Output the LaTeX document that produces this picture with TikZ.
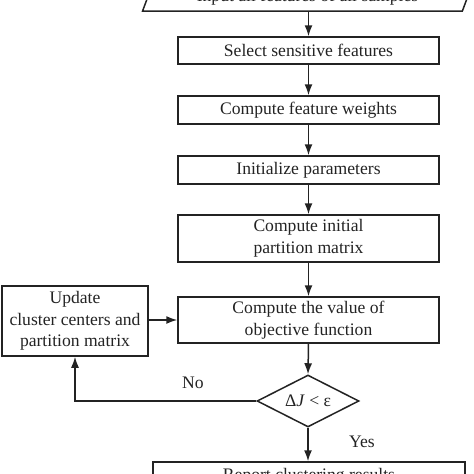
\documentclass[tikz,border=0pt]{standalone}
\usepackage{fontspec}
\setmainfont{Liberation Serif}
\usetikzlibrary{shapes.geometric,arrows.meta}
\definecolor{ink}{RGB}{35,35,35}
\begin{document}
\begin{tikzpicture}[x=1pt,y=-1pt,
  every node/.style={font=\fontsize{17.6}{21.5}\selectfont, text=ink},
  procbox/.style={draw=ink, line width=1.5pt, minimum width=261pt, inner sep=0pt, align=center},
  flow/.style={draw=ink, line width=1.5pt, -{Latex[length=11pt,width=8pt]}},
  lbl/.style={inner sep=0pt}]
\useasboundingbox (0,0) rectangle (474,474);
\clip (0,0) rectangle (474,474);
\node (in) [draw=ink, line width=1.5pt, trapezium, trapezium left angle=66, trapezium right angle=114,
  trapezium stretches=true, minimum width=331pt, minimum height=27pt, inner sep=0pt] at (307.5,-2.5) {Input all features of all samples};
\node (s1) [procbox, minimum height=27pt] at (308.5,50.5) {Select sensitive features};
\node (s2) [procbox, minimum height=28pt] at (308.5,110) {Compute feature weights};
\node (s3) [procbox, minimum height=28pt] at (308.5,170) {Initialize parameters};
\node (s4) [procbox, minimum height=47pt] at (308.5,238.5) {Compute initial\\partition matrix};
\node (s5) [procbox, minimum height=46pt] at (308.5,320) {Compute the value of\\objective function};
\node (upd) [procbox, minimum width=146pt, minimum height=70pt] at (75,321) {Update\\cluster centers and\\partition matrix};
\node (dia) [draw=ink, line width=1.5pt, diamond, aspect=2, inner sep=0pt, minimum width=102pt, minimum height=52pt] at (308,401) {Δ\textit{J} < ε};
\node (rep) [procbox, minimum width=312pt, minimum height=28pt] at (309,476) {Report clustering results};
\node (no) [lbl] at (193,383) {No};
\node (yes) [lbl] at (362,442) {Yes};
\draw[flow] (s1.north |- in.south) -- (s1.north);
\draw[flow] (s1) -- (s2);
\draw[flow] (s2) -- (s3);
\draw[flow] (s3) -- (s4);
\draw[flow] (s4) -- (s5);
\draw[flow] (s5.south) -- (dia.north);
\draw[flow] (dia.south) -- (dia.south |- rep.north);
\draw[flow] (dia.west) -| (upd.south);
\draw[flow] (upd.east |- s5.west) -- (s5.west);
\end{tikzpicture}
\end{document}
